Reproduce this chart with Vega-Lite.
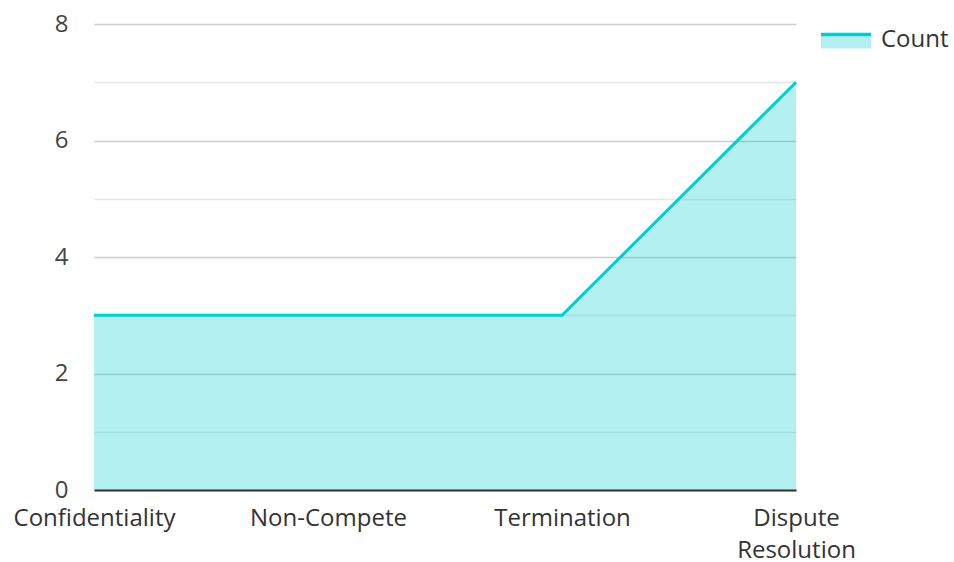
{
  "$schema": "https://vega.github.io/schema/vega-lite/v6.json",
  "width": 702,
  "height": 466,
  "autosize": "none",
  "padding": {"left": 94, "top": 24, "right": 158, "bottom": 72},
  "config": {"font": "Open Sans", "view": {"stroke": null}},
  "data": {"values": [
    {"category": "Confidentiality", "count": 3},
    {"category": "Non-Compete", "count": 3},
    {"category": "Termination", "count": 3},
    {"category": "Dispute Resolution", "count": 7}
  ]},
  "encoding": {
    "x": {
      "field": "category", "type": "nominal", "sort": null,
      "scale": {"type": "point", "padding": 0},
      "axis": {
        "title": null, "labelAngle": 0, "ticks": false, "grid": false,
        "domain": true, "domainColor": "#333", "domainWidth": 2,
        "labelFontSize": 24, "labelColor": "#333", "labelPadding": 16,
        "labelLineHeight": 32,
        "labelExpr": "datum.label == 'Dispute Resolution' ? ['Dispute', 'Resolution'] : datum.label",
        "zindex": 1
      }
    },
    "y": {
      "field": "count", "type": "quantitative",
      "scale": {"domain": [0, 8], "nice": false},
      "axis": {
        "title": null, "values": [0, 1, 2, 3, 4, 5, 6, 7, 8],
        "labelExpr": "datum.value % 2 == 0 ? datum.label : ''",
        "ticks": false, "domain": false, "grid": true,
        "gridColor": {"condition": {"test": "datum.value % 2 == 1", "value": "#e6e6e6"}, "value": "#cccccc"},
        "gridWidth": 1.5,
        "labelFontSize": 24, "labelColor": "#444", "labelPadding": 26
      }
    }
  },
  "layer": [
    {
      "mark": {"type": "area"},
      "encoding": {
        "fill": {
          "datum": "Count", "type": "nominal",
          "scale": {"range": ["rgba(0,206,209,0.3)"]},
          "legend": {
            "title": null, "orient": "none", "legendX": 725, "legendY": -11,
            "symbolType": "M-1,-0.22H1V0.34H-1Z", "symbolSize": 2500,
            "symbolOpacity": 1, "symbolStrokeWidth": 3.5, "symbolDash": [50, 200],
            "labelFontSize": 24, "labelColor": "#333", "labelOffset": 8
          }
        }
      }
    },
    {
      "mark": {"type": "line", "strokeWidth": 3},
      "encoding": {
        "stroke": {
          "datum": "Count", "type": "nominal",
          "scale": {"range": ["#00CED1"]},
          "legend": {
            "title": null, "orient": "none", "legendX": 725, "legendY": -11,
            "symbolType": "M-1,-0.22H1V0.34H-1Z", "symbolSize": 2500,
            "symbolOpacity": 1, "symbolStrokeWidth": 3.5, "symbolDash": [50, 200],
            "labelFontSize": 24, "labelColor": "#333", "labelOffset": 8
          }
        }
      }
    }
  ]
}
